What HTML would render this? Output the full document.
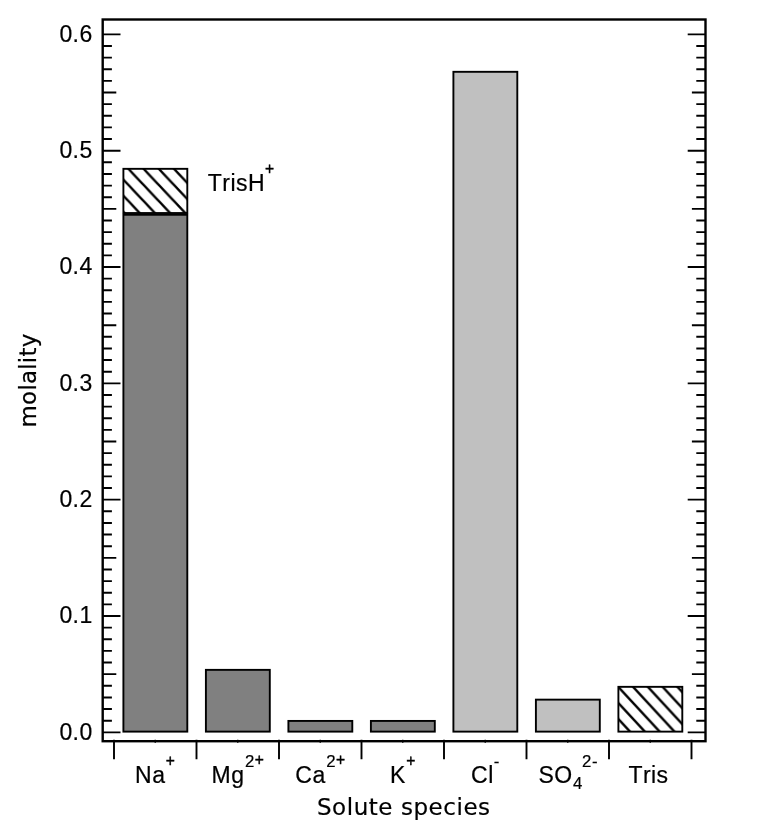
<!DOCTYPE html>
<html lang="en"><head><meta charset="utf-8"><title>Solute species molality</title>
<style>html,body{margin:0;padding:0;background:#fff;}body{width:768px;height:835px;overflow:hidden;}svg{display:block;}.t{font-family:"Liberation Sans",Arial,sans-serif;font-size:23px;fill:#000;stroke:#000;stroke-width:0.2px;font-kerning:none;}.s{font-size:16.8px;}.p{font-size:15.6px;stroke-width:0.4px;}.d{font-family:"DejaVu Sans",Verdana,sans-serif;font-size:23px;fill:#000;stroke:#000;stroke-width:0.2px;font-kerning:none;}</style></head><body>
<svg width="768" height="835" viewBox="0 0 768 835">
<defs>
<pattern id="h1" patternUnits="userSpaceOnUse" width="15.2" height="16.1" x="127.7" y="168.1"><path d="M-15.2,-16.1 L30.4,32.2 M0,-16.1 L30.4,16.1 M-15.2,0 L15.2,32.2" stroke="#000" stroke-width="2.4" fill="none"/></pattern>
<pattern id="h2" patternUnits="userSpaceOnUse" width="14.8" height="16" x="618.2" y="686.8"><path d="M-14.8,-16 L29.6,32 M0,-16 L29.6,16 M-14.8,0 L14.8,32" stroke="#000" stroke-width="2.4" fill="none"/></pattern>
</defs>
<rect x="0" y="0" width="768" height="835" fill="#fff"/>
<rect x="123.40" y="214.78" width="63.90" height="516.85" fill="#808080" stroke="#000" stroke-width="1.9"/>
<rect x="123.40" y="168.83" width="63.90" height="44.20" fill="url(#h1)" stroke="#000" stroke-width="1.9"/>
<rect x="205.90" y="669.86" width="63.90" height="61.77" fill="#808080" stroke="#000" stroke-width="1.9"/>
<rect x="288.40" y="720.93" width="63.90" height="10.70" fill="#808080" stroke="#000" stroke-width="1.9"/>
<rect x="370.90" y="720.93" width="63.90" height="10.70" fill="#808080" stroke="#000" stroke-width="1.9"/>
<rect x="453.40" y="71.81" width="63.90" height="659.82" fill="#c0c0c0" stroke="#000" stroke-width="1.9"/>
<rect x="535.90" y="699.64" width="63.90" height="31.99" fill="#c0c0c0" stroke="#000" stroke-width="1.9"/>
<rect x="618.40" y="686.84" width="63.90" height="44.79" fill="url(#h2)" stroke="#000" stroke-width="1.9"/>
<rect x="102.7" y="19.5" width="602.80" height="721.70" fill="none" stroke="#000" stroke-width="2.4"/>
<path d="M102.7,732.33h17.8M705.5,732.33h-17.8M102.7,720.70h9.2M705.5,720.70h-9.2M102.7,709.06h9.2M705.5,709.06h-9.2M102.7,697.43h9.2M705.5,697.43h-9.2M102.7,685.80h9.2M705.5,685.80h-9.2M102.7,674.16h13.6M705.5,674.16h-13.6M102.7,662.53h9.2M705.5,662.53h-9.2M102.7,650.90h9.2M705.5,650.90h-9.2M102.7,639.27h9.2M705.5,639.27h-9.2M102.7,627.63h9.2M705.5,627.63h-9.2M102.7,616.00h17.8M705.5,616.00h-17.8M102.7,604.37h9.2M705.5,604.37h-9.2M102.7,592.73h9.2M705.5,592.73h-9.2M102.7,581.10h9.2M705.5,581.10h-9.2M102.7,569.47h9.2M705.5,569.47h-9.2M102.7,557.83h13.6M705.5,557.83h-13.6M102.7,546.20h9.2M705.5,546.20h-9.2M102.7,534.57h9.2M705.5,534.57h-9.2M102.7,522.94h9.2M705.5,522.94h-9.2M102.7,511.30h9.2M705.5,511.30h-9.2M102.7,499.67h17.8M705.5,499.67h-17.8M102.7,488.04h9.2M705.5,488.04h-9.2M102.7,476.40h9.2M705.5,476.40h-9.2M102.7,464.77h9.2M705.5,464.77h-9.2M102.7,453.14h9.2M705.5,453.14h-9.2M102.7,441.50h13.6M705.5,441.50h-13.6M102.7,429.87h9.2M705.5,429.87h-9.2M102.7,418.24h9.2M705.5,418.24h-9.2M102.7,406.61h9.2M705.5,406.61h-9.2M102.7,394.97h9.2M705.5,394.97h-9.2M102.7,383.34h17.8M705.5,383.34h-17.8M102.7,371.71h9.2M705.5,371.71h-9.2M102.7,360.07h9.2M705.5,360.07h-9.2M102.7,348.44h9.2M705.5,348.44h-9.2M102.7,336.81h9.2M705.5,336.81h-9.2M102.7,325.18h13.6M705.5,325.18h-13.6M102.7,313.54h9.2M705.5,313.54h-9.2M102.7,301.91h9.2M705.5,301.91h-9.2M102.7,290.28h9.2M705.5,290.28h-9.2M102.7,278.64h9.2M705.5,278.64h-9.2M102.7,267.01h17.8M705.5,267.01h-17.8M102.7,255.38h9.2M705.5,255.38h-9.2M102.7,243.74h9.2M705.5,243.74h-9.2M102.7,232.11h9.2M705.5,232.11h-9.2M102.7,220.48h9.2M705.5,220.48h-9.2M102.7,208.84h13.6M705.5,208.84h-13.6M102.7,197.21h9.2M705.5,197.21h-9.2M102.7,185.58h9.2M705.5,185.58h-9.2M102.7,173.95h9.2M705.5,173.95h-9.2M102.7,162.31h9.2M705.5,162.31h-9.2M102.7,150.68h17.8M705.5,150.68h-17.8M102.7,139.05h9.2M705.5,139.05h-9.2M102.7,127.41h9.2M705.5,127.41h-9.2M102.7,115.78h9.2M705.5,115.78h-9.2M102.7,104.15h9.2M705.5,104.15h-9.2M102.7,92.51h13.6M705.5,92.51h-13.6M102.7,80.88h9.2M705.5,80.88h-9.2M102.7,69.25h9.2M705.5,69.25h-9.2M102.7,57.62h9.2M705.5,57.62h-9.2M102.7,45.98h9.2M705.5,45.98h-9.2M102.7,34.35h17.8M705.5,34.35h-17.8" stroke="#000" stroke-width="1.9" fill="none"/>
<path d="M114.00,739.7V759.2M196.50,739.7V759.2M279.00,739.7V759.2M361.50,739.7V759.2M444.00,739.7V759.2M526.50,739.7V759.2M609.00,739.7V759.2M691.50,739.7V759.2" stroke="#000" stroke-width="1.9" fill="none"/>
<path d="M155.25,739.7v3.0M237.75,739.7v3.0M320.25,739.7v3.0M402.75,739.7v3.0M485.25,739.7v3.0M567.75,739.7v3.0M650.25,739.7v3.0" stroke="#000" stroke-width="1.4" fill="none"/>
<text class="t" x="92.60" y="739.63" text-anchor="end" letter-spacing="0.4">0.0</text>
<text class="t" x="92.60" y="623.30" text-anchor="end" letter-spacing="0.4">0.1</text>
<text class="t" x="92.60" y="506.97" text-anchor="end" letter-spacing="0.4">0.2</text>
<text class="t" x="92.60" y="390.64" text-anchor="end" letter-spacing="0.4">0.3</text>
<text class="t" x="92.60" y="274.31" text-anchor="end" letter-spacing="0.4">0.4</text>
<text class="t" x="92.60" y="157.98" text-anchor="end" letter-spacing="0.4">0.5</text>
<text class="t" x="92.60" y="41.65" text-anchor="end" letter-spacing="0.4">0.6</text>
<text class="t" x="135.00" y="782.90" letter-spacing="0.6">Na<tspan class="p" dx="0.1" dy="-16.8">+</tspan></text>
<text class="t" x="211.40" y="782.90" letter-spacing="0.6">Mg<tspan class="s" dx="0.5" dy="-16.3">2</tspan><tspan class="p" dx="-0.2" dy="-1.2">+</tspan></text>
<text class="t" x="295.20" y="782.90" letter-spacing="0.6">Ca<tspan class="s" dx="0.5" dy="-16.3">2</tspan><tspan class="p" dx="-0.2" dy="-1.2">+</tspan></text>
<text class="t" x="390.10" y="782.90" letter-spacing="0.6">K<tspan class="p" dx="0.1" dy="-16.8">+</tspan></text>
<text class="t" x="471.00" y="782.90" letter-spacing="0.6">Cl<tspan class="s" dx="-0.1" dy="-16.3">-</tspan></text>
<text class="t" x="538.40" y="782.90" letter-spacing="0.6">SO<tspan class="s" dx="0.2" dy="6.0">4</tspan><tspan class="s" dx="-0.9" dy="-22.3">2-</tspan></text>
<text class="t" x="628.50" y="782.90" letter-spacing="0.4">Tris</text>
<text class="t" x="207.80" y="190.60" letter-spacing="0.45">TrisH<tspan class="p" dx="0.1" dy="-16.8">+</tspan></text>
<text class="d" x="403.80" y="814.80" text-anchor="middle" letter-spacing="0.55">Solute species</text>
<text class="d" transform="translate(35.80,380.50) rotate(-90)" text-anchor="middle" letter-spacing="0.2">molality</text>
</svg></body></html>
